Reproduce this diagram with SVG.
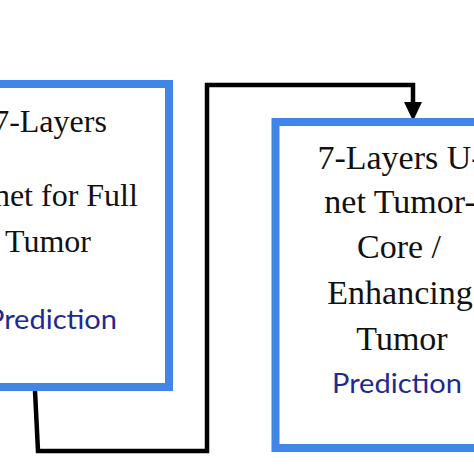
<svg xmlns="http://www.w3.org/2000/svg" width="474" height="474" viewBox="0 0 474 474">
<style>
.box{fill:#fff;stroke:#3f86e8;stroke-width:8}
.t{font-family:"Liberation Serif","Times New Roman",serif;font-size:32px;fill:#111;text-anchor:middle}
.r{font-size:34px}
.p{font-family:Lato,"Open Sans",sans-serif;font-size:26px;fill:#1f2a8f;text-anchor:middle}
.c{fill:none;stroke:#000;stroke-width:4.5}
</style>
<rect width="474" height="474" fill="#fff"/>
<g id="connectors">
<path class="c" d="M35,391 L38,451 L207,451 L207,85 L413,85 L413,103"/>
<path d="M404,102 L422,102 L413,121 Z" fill="#000"/>
</g>
<g id="node-full">
<rect class="box" x="-73" y="84" width="242" height="303"/>
<text class="t" x="50" y="132">7-Layers</text>
<text class="t" x="49" y="206">U-net for Full</text>
<text class="t" x="48" y="252">Tumor</text>
<text class="p" x="52" y="329" textLength="130" lengthAdjust="spacingAndGlyphs">Prediction</text>
</g>
<g id="node-core">
<rect class="box" x="275.5" y="122" width="243" height="326"/>
<text class="t r" x="400" y="169">7-Layers U-</text>
<text class="t r" x="400" y="213">net Tumor-</text>
<text class="t r" x="399" y="258">Core /</text>
<text class="t r" x="400" y="304">Enhancing</text>
<text class="t r" x="402" y="350">Tumor</text>
<text class="p" x="397" y="393" textLength="130" lengthAdjust="spacingAndGlyphs">Prediction</text>
</g>
</svg>
